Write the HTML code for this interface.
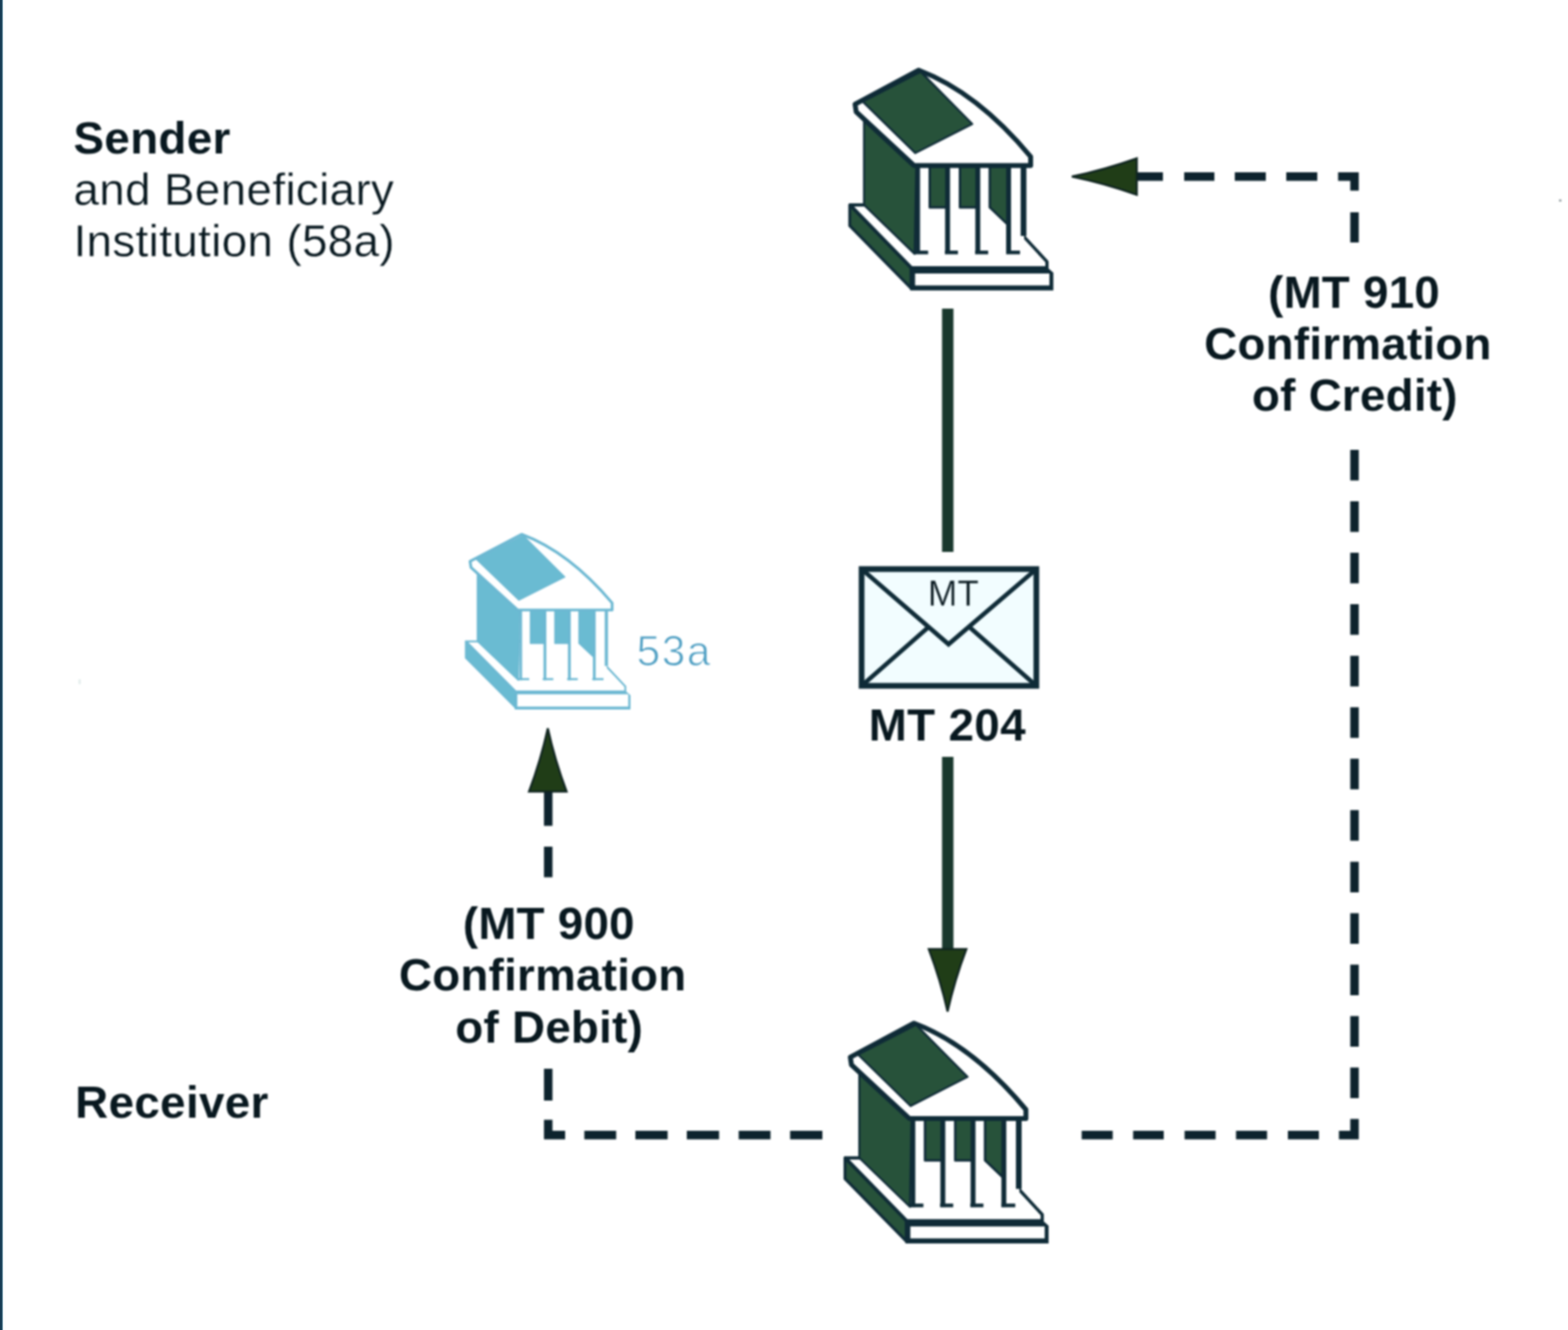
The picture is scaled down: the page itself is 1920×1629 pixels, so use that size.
<!DOCTYPE html>
<html lang="en"><head><meta charset="utf-8"><title>MT 204 flow</title>
<style>
html,body{margin:0;padding:0;background:#fff;}
body{width:1920px;height:1629px;overflow:hidden;position:relative;font-family:"Liberation Sans",sans-serif;}
svg{position:absolute;left:0;top:0;display:block;filter:blur(1px);}
.edge{position:absolute;left:0;top:0;width:4px;height:1629px;background:linear-gradient(to right,#163d55 0,#163d55 2px,#5f8598 3px,#e4f4fb 4px);}
text{font-family:"Liberation Sans",sans-serif;}
.b{font-weight:bold;}
</style></head><body>
<svg width="1920" height="1629" viewBox="0 0 1920 1629">
<rect x="-10" y="-10" width="1940" height="1649" fill="#fff"/>

<g stroke="#19382d" fill="none" stroke-width="14">
<line x1="1160.5" y1="378" x2="1160.5" y2="676"/>
<line x1="1160.5" y1="927" x2="1160.5" y2="1165"/>
</g>
<g stroke="#0f2b37" fill="none">
<rect x="1055" y="697" width="214" height="143" stroke-width="7" fill="#f2fdff"/>
<path d="M1055,697 L1161.5,789 L1269,697 M1055,840 L1137,768 M1269,840 L1187,768" stroke-width="5.5"/>
<g stroke-width="10.4" stroke="#0d232d">
<path d="M671.3,970 V1011.5 M671.3,1037 V1074.5 M671.3,1309 V1348 M671.3,1371.5 V1390.2 H692 M715.5,1390.2 H754.5 M778,1390.2 H817.5 M841,1390.2 H880.5 M904.5,1390.2 H943.5 M967.5,1390.2 H1007"/>
<path d="M1390,216.2 H1424 M1450,216.2 H1487 M1512,216.2 H1550 M1575,216.2 H1613 M1638.5,216.2 H1658.6 V233.5 M1658.6,260 V297 M1658.6,551.0 V588.5 M1658.6,614.0 V651.5 M1658.6,677.1 V714.6 M1658.6,740.1 V777.6 M1658.6,803.2 V840.7 M1658.6,866.2 V903.8 M1658.6,929.3 V966.8 M1658.6,992.3 V1029.8 M1658.6,1055.4 V1092.9 M1658.6,1118.4 V1155.9 M1658.6,1181.5 V1219.0 M1658.6,1244.5 V1282.0 M1658.6,1307.6 V1345.1 M1658.6,1370.5 V1390.2 H1639.5 M1324.5,1390.2 H1362.5 M1387.5,1390.2 H1425 M1450.5,1390.2 H1488.5 M1513.5,1390.2 H1551.5 M1577,1390.2 H1615"/>
</g>
</g>
<g fill="#203d17" stroke="#0f2420" stroke-width="2.5" stroke-linejoin="miter">
<path transform="translate(1160.3 1239) rotate(0)" d="M-23,-76.5 Q-8.5,-38.25 0,0 Q8.5,-38.25 23,-76.5 Z"/>
<path transform="translate(1312.5 216.3) rotate(90)" d="M-22.3,-79.5 Q-8.15,-39.75 0,0 Q8.15,-39.75 22.3,-79.5 Z"/>
<path transform="translate(670.8 892) rotate(180)" d="M-23,-77.5 Q-8.5,-38.75 0,0 Q8.5,-38.75 23,-77.5 Z"/>
</g>

<g fill="#08181f" font-size="56" letter-spacing="0.45">
<text class="b" x="90" y="187.5">Sender</text>
<g stroke="#fff" stroke-width="0.35" stroke-linejoin="round">
<text x="90" y="250.5">and Beneficiary</text>
<text x="90" y="314">Institution (58a)</text>
</g>
<text class="b" x="92" y="1369">Receiver</text>
<text class="b" x="1160" y="906.5" text-anchor="middle">MT 204</text>
<g class="b" text-anchor="middle" letter-spacing="0.3">
<text x="1658" y="377.2">(MT 910</text>
<text x="1650.5" y="440">Confirmation</text>
<text x="1659" y="503">of Credit)</text>
<text x="672" y="1150.3">(MT 900</text>
<text x="664.5" y="1213.4">Confirmation</text>
<text x="672.5" y="1276.7">of Debit)</text>
</g>
</g>
<text transform="translate(1167.5 742) scale(0.97 1)" font-size="44.5" fill="#08181f" stroke="#f2fdff" stroke-width="0.35" text-anchor="middle">MT</text>
<text x="779.5" y="814.5" font-size="52" letter-spacing="1.8" fill="#4f9fc3" stroke="#fff" stroke-width="1.1" stroke-linejoin="round">53a</text>

<g transform="translate(1037 83) scale(1 1) translate(-1037 -83)" stroke="#0f2b37" stroke-linejoin="round" stroke-linecap="butt" stroke-width="4.5">
<polygon points="1040.5,251 1040.5,276.5 1115.5,353 1115.5,328" fill="#27523a" stroke-width="3.5"/>
<polygon points="1041,251 1116,328 1282,328 1282,320.5 1252.5,288.5 1252.5,251" fill="#ffffff" stroke-width="4.0"/>
<polygon points="1114.5,328 1283,328 1289.8,334 1289.8,355.8 1114.5,355.8" fill="#0f2b37" stroke="none"/>
<rect x="1120.5" y="335" width="164.5" height="14.6" fill="#ffffff" stroke="none"/>
<polygon points="1058,139 1058,251 1120,311 1122,203" fill="#27523a" stroke="#0f2b37" stroke-width="2.5"/>
<rect x="1124" y="204" width="130" height="105" fill="#ffffff" stroke="none"/>
<rect x="1138.5" y="204" width="21" height="50" fill="#27523a" stroke-width="3.0"/>
<rect x="1175.5" y="204" width="21" height="50" fill="#27523a" stroke-width="3.0"/>
<polygon points="1212,204 1235,204 1235,276 1212,254" fill="#27523a" stroke-width="3.0"/>
<line x1="1123.8" y1="203" x2="1123.8" y2="311" stroke-width="5.5"/>
<line x1="1160.3" y1="204" x2="1160.3" y2="311" stroke-width="6.0"/>
<line x1="1197.3" y1="204" x2="1197.3" y2="311" stroke-width="6.0"/>
<line x1="1235" y1="204" x2="1235" y2="311" stroke-width="6.0"/>
<line x1="1253.3" y1="204" x2="1253.3" y2="289" stroke-width="7.0"/>
<line x1="1119.5" y1="309.2" x2="1136.5" y2="309.2" stroke-width="4.5"/>
<line x1="1157" y1="309.2" x2="1173" y2="309.2" stroke-width="4.5"/>
<line x1="1194" y1="309.2" x2="1210" y2="309.2" stroke-width="4.5"/>
<line x1="1232" y1="309.2" x2="1249" y2="309.2" stroke-width="4.5"/>
<path d="M1047,127.6 L1125,86 Q1196.5,113 1262,191.8 L1262,202.7 L1119.2,202.7 L1048.4,137 Z" fill="#ffffff" stroke-width="6.0"/>
<polygon points="1127.5,88 1190.5,151.8 1120.8,187.5 1056.5,124.5" fill="#27523a" stroke-width="2.5"/>
</g>
<g transform="translate(1031.2 1250.2) scale(1 1) translate(-1037 -83)" stroke="#0f2b37" stroke-linejoin="round" stroke-linecap="butt" stroke-width="4.5">
<polygon points="1040.5,251 1040.5,276.5 1115.5,353 1115.5,328" fill="#27523a" stroke-width="3.5"/>
<polygon points="1041,251 1116,328 1282,328 1282,320.5 1252.5,288.5 1252.5,251" fill="#ffffff" stroke-width="4.0"/>
<polygon points="1114.5,328 1283,328 1289.8,334 1289.8,355.8 1114.5,355.8" fill="#0f2b37" stroke="none"/>
<rect x="1120.5" y="335" width="164.5" height="14.6" fill="#ffffff" stroke="none"/>
<polygon points="1058,139 1058,251 1120,311 1122,203" fill="#27523a" stroke="#0f2b37" stroke-width="2.5"/>
<rect x="1124" y="204" width="130" height="105" fill="#ffffff" stroke="none"/>
<rect x="1138.5" y="204" width="21" height="50" fill="#27523a" stroke-width="3.0"/>
<rect x="1175.5" y="204" width="21" height="50" fill="#27523a" stroke-width="3.0"/>
<polygon points="1212,204 1235,204 1235,276 1212,254" fill="#27523a" stroke-width="3.0"/>
<line x1="1123.8" y1="203" x2="1123.8" y2="311" stroke-width="5.5"/>
<line x1="1160.3" y1="204" x2="1160.3" y2="311" stroke-width="6.0"/>
<line x1="1197.3" y1="204" x2="1197.3" y2="311" stroke-width="6.0"/>
<line x1="1235" y1="204" x2="1235" y2="311" stroke-width="6.0"/>
<line x1="1253.3" y1="204" x2="1253.3" y2="289" stroke-width="7.0"/>
<line x1="1119.5" y1="309.2" x2="1136.5" y2="309.2" stroke-width="4.5"/>
<line x1="1157" y1="309.2" x2="1173" y2="309.2" stroke-width="4.5"/>
<line x1="1194" y1="309.2" x2="1210" y2="309.2" stroke-width="4.5"/>
<line x1="1232" y1="309.2" x2="1249" y2="309.2" stroke-width="4.5"/>
<path d="M1047,127.6 L1125,86 Q1196.5,113 1262,191.8 L1262,202.7 L1119.2,202.7 L1048.4,137 Z" fill="#ffffff" stroke-width="6.0"/>
<polygon points="1127.5,88 1190.5,151.8 1120.8,187.5 1056.5,124.5" fill="#27523a" stroke-width="2.5"/>
</g>
<g transform="translate(567.5 652) scale(0.809 0.795) translate(-1037 -83)" stroke="#6cb8d2" stroke-linejoin="round" stroke-linecap="butt" stroke-width="3.15">
<polygon points="1040.5,251 1040.5,276.5 1115.5,353 1115.5,328" fill="#6abbd2" stroke-width="2.45"/>
<polygon points="1041,251 1116,328 1282,328 1282,320.5 1252.5,288.5 1252.5,251" fill="#ffffff" stroke-width="2.8"/>
<polygon points="1114.5,328 1283,328 1289.8,334 1289.8,355.8 1114.5,355.8" fill="#6cb8d2" stroke="none"/>
<rect x="1118.5" y="332.5" width="168" height="19" fill="#ffffff" stroke="none"/>
<polygon points="1058,139 1058,251 1120,311 1122,203" fill="#6abbd2" stroke="#6cb8d2" stroke-width="1.75"/>
<rect x="1124" y="204" width="130" height="105" fill="#ffffff" stroke="none"/>
<rect x="1138.5" y="204" width="21" height="50" fill="#6abbd2" stroke-width="2.1"/>
<rect x="1175.5" y="204" width="21" height="50" fill="#6abbd2" stroke-width="2.1"/>
<polygon points="1212,204 1235,204 1235,276 1212,254" fill="#6abbd2" stroke-width="2.1"/>
<line x1="1123.8" y1="203" x2="1123.8" y2="311" stroke-width="3.85"/>
<line x1="1160.3" y1="204" x2="1160.3" y2="311" stroke-width="4.2"/>
<line x1="1197.3" y1="204" x2="1197.3" y2="311" stroke-width="4.2"/>
<line x1="1235" y1="204" x2="1235" y2="311" stroke-width="4.2"/>
<line x1="1253.3" y1="204" x2="1253.3" y2="289" stroke-width="4.9"/>
<line x1="1119.5" y1="309.2" x2="1136.5" y2="309.2" stroke-width="3.15"/>
<line x1="1157" y1="309.2" x2="1173" y2="309.2" stroke-width="3.15"/>
<line x1="1194" y1="309.2" x2="1210" y2="309.2" stroke-width="3.15"/>
<line x1="1232" y1="309.2" x2="1249" y2="309.2" stroke-width="3.15"/>
<path d="M1047,127.6 L1125,86 Q1196.5,113 1262,191.8 L1262,202.7 L1119.2,202.7 L1048.4,137 Z" fill="#ffffff" stroke-width="4.2"/>
<polygon points="1127.5,88 1190.5,151.8 1120.8,187.5 1056.5,124.5" fill="#6abbd2" stroke-width="1.75"/>
</g>
<circle cx="1910.5" cy="245.5" r="1.6" fill="#8f9a9e"/>
<rect x="96" y="832" width="3" height="6" fill="#e6efee"/>
</svg>
<div class="edge"></div>
</body></html>
